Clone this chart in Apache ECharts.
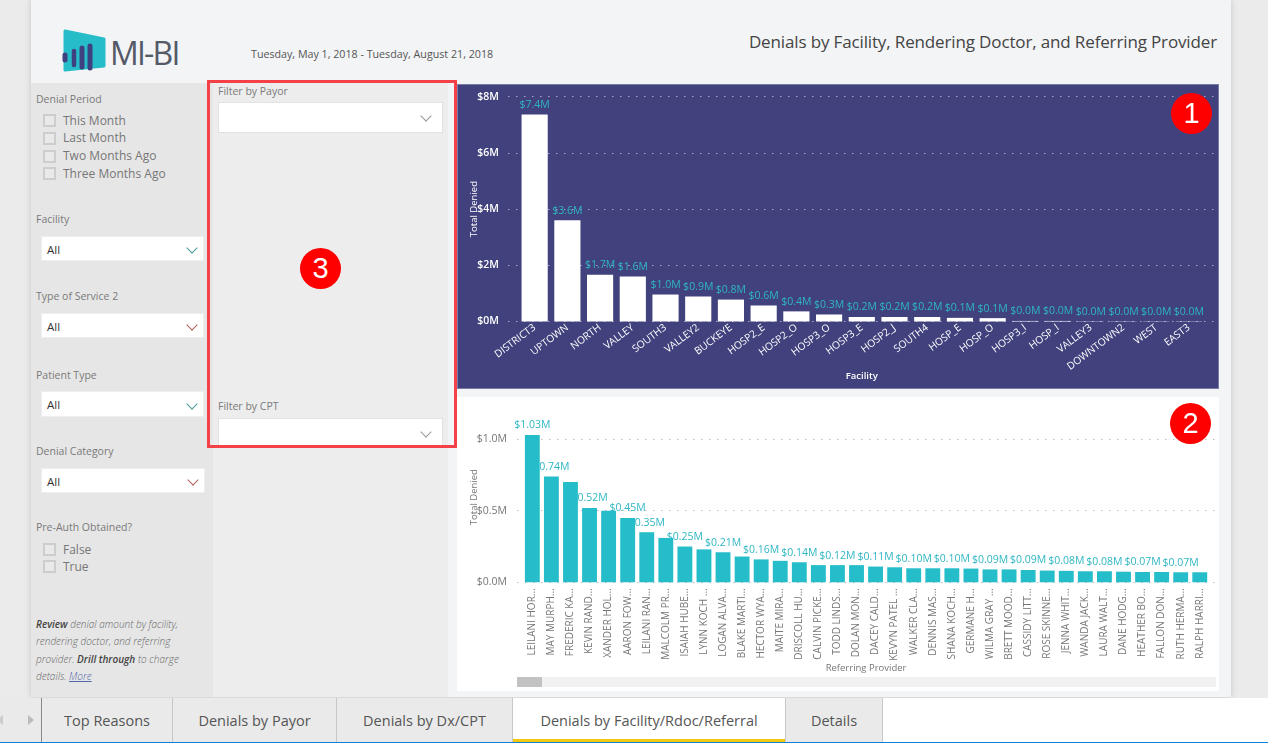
<!DOCTYPE html>
<html>
<head>
<meta charset="utf-8">
<title>Denials by Facility, Rendering Doctor, and Referring Provider</title>
<script src="https://cdn.jsdelivr.net/npm/echarts@6/dist/echarts.min.js"></script>
<style>
  html, body { margin: 0; padding: 0; width: 1268px; height: 743px; overflow: hidden; background: #ebebeb; font-family: "Open Sans", sans-serif; }
  .abs, .t, .check, .drop, .chev, .badge, .tab, .div { position: absolute; }
  .t { white-space: nowrap; line-height: 1; color: #7a7a7a; font-size: 10.5px; }
  .opt { font-size: 12px; color: #777; }
  .note { font-size: 10px; font-style: italic; color: #666; font-weight: 300; }
  .note b { color: #444; font-weight: 600; }
  .check { width: 9px; height: 9px; border: 2px solid #cdcdcd; background: #e9e9e9; }
  .drop { background: #fff; border: 1px solid #eee; box-sizing: border-box; }
  .drop span { position: absolute; left: 5px; top: 7px; font-size: 11.5px; color: #333; line-height: 1.1; }
  .chev { width: 7px; height: 7px; border-right: 1px solid #4a9a9a; border-bottom: 1px solid #4a9a9a; transform: rotate(45deg); }
  .badge { width: 41px; height: 41px; border-radius: 50%; background: #f00; color: #fff; text-align: center; font: 29px/41px "Liberation Sans", sans-serif; }
  .tab { top: 698px; height: 44px; line-height: 45px; font-size: 14.5px; font-weight: 500; color: #555; text-align: center; white-space: nowrap; }
  .div { top: 698px; width: 1px; height: 44px; background: #c8c8c8; }
</style>
</head>
<body>
<!-- report canvas -->
<div class="abs" style="left:31px;top:0;width:1200px;height:697px;background:#f3f4f6;box-shadow:0 0 6px #c4c4c4"></div>
<div class="abs" style="left:31px;top:83px;width:182px;height:614px;background:#e6e6e6"></div>
<div class="abs" style="left:213px;top:83px;width:235px;height:614px;background:#ededed"></div>

<!-- logo -->
<svg class="abs" style="left:60px;top:26px" width="48" height="48">
  <path d="M5 5 L44 13 L44 40 L5 44 Z" fill="#26bdc9" stroke="#26bdc9" stroke-width="3" stroke-linejoin="round"/>
  <g stroke="#3f4080" stroke-linecap="round" fill="none">
    <path d="M5 29V34" stroke-width="5"/>
    <path d="M14 25V39" stroke-width="4.5"/>
    <path d="M22 22V41" stroke-width="5"/>
    <path d="M30 20V42" stroke-width="5"/>
  </g>
</svg>
<div class="t" style="left:110px;top:37px;font-size:32px;color:#555a68;letter-spacing:-1.8px">MI-BI</div>
<div class="t" style="left:251px;top:49px;font-size:10.7px;color:#555">Tuesday, May 1, 2018 - Tuesday, August 21, 2018</div>
<div class="t" style="right:51px;top:33px;font-size:17px;letter-spacing:-0.14px;color:#444">Denials by Facility, Rendering Doctor, and Referring Provider</div>

<!-- slicers -->
<div class="t" style="left:36px;top:94px">Denial Period</div>
<div class="check" style="left:43px;top:114px"></div><div class="t opt" style="left:63px;top:115px">This Month</div>
<div class="check" style="left:43px;top:132px"></div><div class="t opt" style="left:63px;top:132px">Last Month</div>
<div class="check" style="left:43px;top:150px"></div><div class="t opt" style="left:63px;top:150px">Two Months Ago</div>
<div class="check" style="left:43px;top:167px"></div><div class="t opt" style="left:63px;top:168px">Three Months Ago</div>

<div class="t" style="left:36px;top:214px">Facility</div>
<div class="drop" style="left:41px;top:236px;width:163px;height:25px"><span>All</span></div>
<div class="chev" style="left:188px;top:244px"></div>

<div class="t" style="left:36px;top:291px">Type of Service 2</div>
<div class="drop" style="left:41px;top:313px;width:163px;height:25px"><span>All</span></div>
<div class="chev" style="left:188px;top:321px;border-color:#b5605a"></div>

<div class="t" style="left:36px;top:370px">Patient Type</div>
<div class="drop" style="left:41px;top:391px;width:163px;height:26px"><span>All</span></div>
<div class="chev" style="left:188px;top:400px"></div>

<div class="t" style="left:36px;top:446px">Denial Category</div>
<div class="drop" style="left:41px;top:468px;width:164px;height:25px"><span>All</span></div>
<div class="chev" style="left:189px;top:476px;border-color:#b5605a"></div>

<div class="t" style="left:36px;top:522px">Pre-Auth Obtained?</div>
<div class="check" style="left:43px;top:543px"></div><div class="t opt" style="left:63px;top:544px">False</div>
<div class="check" style="left:43px;top:560px"></div><div class="t opt" style="left:63px;top:561px">True</div>

<div class="t note" style="left:36px;top:619px"><b>Review</b> denial amount by facility,</div>
<div class="t note" style="left:36px;top:636px">rendering doctor, and referring</div>
<div class="t note" style="left:36px;top:654px">provider. <b>Drill through</b> to charge</div>
<div class="t note" style="left:36px;top:671px">details. <span style="color:#5566aa;text-decoration:underline">More</span></div>

<!-- payor and CPT filters -->
<div class="t" style="left:218px;top:86px">Filter by Payor</div>
<div class="drop" style="left:218px;top:102px;width:225px;height:31px;border:1px solid #e2e2e2"></div>
<div class="chev" style="left:422px;top:112px;border-color:#999"></div>
<div class="t" style="left:218px;top:401px">Filter by CPT</div>
<div class="drop" style="left:218px;top:418px;width:225px;height:28px;border:1px solid #e2e2e2"></div>
<div class="chev" style="left:422px;top:428px;border-color:#999"></div>
<div class="abs" style="left:207px;top:80px;width:244px;height:362px;border:3px solid #f44147"></div>

<!-- charts -->
<div id="facilityChart" class="abs" style="left:457px;top:84px;width:762px;height:305px"></div>
<div class="abs" style="left:457px;top:84px;width:760px;height:303px;border:1px solid #7a7aa8;pointer-events:none"></div>
<div id="providerChart" class="abs" style="left:457px;top:397px;width:762px;height:294px"></div>
<div class="abs" style="left:517px;top:677px;width:699px;height:10px;background:#f1f1f1"></div>
<div class="abs" style="left:517px;top:677px;width:25px;height:10px;background:#c2c2c2"></div>

<div class="badge" style="left:1171px;top:93px">1</div>
<div class="badge" style="left:1170px;top:403px">2</div>
<div class="badge" style="left:300px;top:248px">3</div>

<!-- page tabs -->
<div class="abs" style="left:0;top:698px;width:1268px;height:44px;background:#fff"></div>
<div class="abs" style="left:0;top:698px;width:883px;height:44px;background:#eaeaea"></div>
<div class="abs" style="left:0;top:742px;width:1268px;height:1px;background:#0f7fd8"></div>
<div class="abs" style="left:513px;top:698px;width:272px;height:44px;background:#fff"></div>
<div class="abs" style="left:513px;top:739px;width:272px;height:3px;background:#f2c811"></div>
<div class="abs" style="left:-3px;top:715px;border:5px solid transparent;border-right:6px solid #ccc;border-left:0"></div>
<div class="abs" style="left:28px;top:715px;border:5px solid transparent;border-left:6px solid #bbb;border-right:0"></div>
<div class="div" style="left:41px;background:#888"></div>
<div class="div" style="left:172px"></div>
<div class="div" style="left:336px"></div>
<div class="div" style="left:512px"></div>
<div class="div" style="left:785px"></div>
<div class="div" style="left:882px"></div>
<div class="tab" style="left:42px;width:130px">Top Reasons</div>
<div class="tab" style="left:173px;width:163px">Denials by Payor</div>
<div class="tab" style="left:337px;width:175px">Denials by Dx/CPT</div>
<div class="tab" style="left:513px;width:272px">Denials by Facility/Rdoc/Referral</div>
<div class="tab" style="left:786px;width:96px">Details</div>

<script>
var facilities = ["DISTRICT3", "UPTOWN", "NORTH", "VALLEY", "SOUTH3", "VALLEY2", "BUCKEYE", "HOSP2_E", "HOSP2_O", "HOSP3_O", "HOSP3_E", "HOSP2_J", "SOUTH4", "HOSP_E", "HOSP_O", "HOSP3_I", "HOSP_I", "VALLEY3", "DOWNTOWN2", "WEST", "EAST3"];
var facilityDenied = [7.37, 3.6, 1.66, 1.6, 0.96, 0.89, 0.78, 0.57, 0.36, 0.25, 0.16, 0.16, 0.16, 0.13, 0.12, 0.02, 0.02, 0.01, 0.01, 0.01, 0.01];
var facilityTicks = [0, 2, 4, 6, 8];

// names are cut off in the report, kept as shown
var providers = ["LEILANI HOR...", "MAY MURPH...", "FREDERIC KA...", "KEVIN RAND...", "XANDER HOL...", "AARON FOW...", "LEILANI RAN...", "MALCOLM PR...", "ISAIAH HUBE...", "LYNN KOCH ...", "LOGAN ALVA...", "BLAKE MARTI...", "HECTOR WYA...", "MAITE MIRA...", "DRISCOLL HU...", "CALVIN PICKE...", "TODD LINDS...", "DOLAN MON...", "DACEY CALD...", "KEVYN PATEL ...", "WALKER CLA...", "DENNIS MAS...", "SHANA KOCH...", "GERMANE H...", "WILMA GRAY ...", "BRETT MOOD...", "CASSIDY LITT...", "ROSE SKINNE...", "JENNA WHIT...", "WANDA JACK...", "LAURA WALT...", "DANE HODG...", "HEATHER BO...", "FALLON DON...", "RUTH HERMA...", "RALPH HARRI..."];
var providerDenied = [1.03, 0.74, 0.7, 0.52, 0.5, 0.45, 0.35, 0.31, 0.25, 0.23, 0.21, 0.18, 0.16, 0.15, 0.14, 0.12, 0.12, 0.12, 0.11, 0.105, 0.098, 0.098, 0.098, 0.096, 0.09, 0.09, 0.086, 0.082, 0.08, 0.077, 0.077, 0.074, 0.072, 0.072, 0.07, 0.07];
// Power BI only labels some of the bars here
var providerLabelled = [0, 1, 3, 5, 6, 8, 10, 12, 14, 16, 18, 20, 22, 24, 26, 28, 30, 32, 34];

var fontName = "Open Sans";
var teal = "#25bdc9";
var tealText = "#2fb6c4";

var chart1 = echarts.init(document.getElementById("facilityChart"));
chart1.setOption({
  animation: false,
  backgroundColor: "#40417d",
  textStyle: { fontFamily: fontName },
  // first grid only holds the value axis: its gridlines run wider than the bars
  grid: [
    { left: 51, width: 706, top: 12.7, height: 224.8, outerBoundsMode: "none" },
    { left: 61.3, width: 687, top: 12.7, height: 224.8, outerBoundsMode: "none" },
  ],
  xAxis: [
    { gridIndex: 0, type: "value", min: 0, max: 1, show: false },
    {
      gridIndex: 1,
      type: "category",
      data: facilities,
      axisLine: { show: false },
      axisTick: { show: false },
      axisLabel: { color: "#fff", fontSize: 10.2, rotate: 37, interval: 0, margin: 5 },
      name: "Facility",
      nameLocation: "middle",
      nameGap: 50,
      nameMoveOverlap: false,
      nameTextStyle: { color: "#fff", fontSize: 9.5, fontWeight: 600 },
    },
  ],
  yAxis: [
    {
      gridIndex: 0,
      type: "value",
      min: facilityTicks[0],
      max: facilityTicks[facilityTicks.length - 1],
      interval: 2,
      axisLine: { show: false },
      axisTick: { show: false },
      axisLabel: { color: "#fff", fontSize: 10.5, fontWeight: 600, margin: 9, formatter: "${value}M" },
      splitLine: { lineStyle: { color: "#a8a8c4", type: [1.5, 6.5], width: 1 } },
      name: "Total Denied",
      nameLocation: "middle",
      nameGap: 29,
      nameMoveOverlap: false,
      nameTextStyle: { color: "#fff", fontSize: 9.5 },
    },
    { gridIndex: 1, type: "value", min: 0, max: 8, show: false },
  ],
  series: [
    {
      type: "bar",
      xAxisIndex: 1,
      yAxisIndex: 1,
      data: facilityDenied,
      barCategoryGap: "20%",
      itemStyle: { color: "#fff" },
      label: {
        show: true,
        position: "top",
        distance: 4,
        color: tealText,
        fontSize: 10.5,
        formatter: function (p) { return "$" + p.value.toFixed(1) + "M"; },
      },
    },
  ],
});

var chart2 = echarts.init(document.getElementById("providerChart"));
chart2.setOption({
  animation: false,
  backgroundColor: "#fff",
  textStyle: { fontFamily: fontName },
  grid: [
    { left: 60, width: 699, top: 15, height: 170.3, outerBoundsMode: "none" },
    { left: 65.8, width: 686.5, top: 15, height: 170.3, outerBoundsMode: "none" },
  ],
  xAxis: [
    { gridIndex: 0, type: "value", min: 0, max: 1, show: false },
    {
      gridIndex: 1,
      type: "category",
      data: providers,
      axisLine: { show: false },
      axisTick: { show: false },
      axisLabel: { color: "#777", fontSize: 10, rotate: 90, interval: 0, margin: 6 },
      name: "Referring Provider",
      nameLocation: "middle",
      nameGap: 81,
      nameMoveOverlap: false,
      nameTextStyle: { color: "#777", fontSize: 9.5 },
    },
  ],
  yAxis: [
    {
      gridIndex: 0,
      type: "value",
      min: 0,
      max: 1.19,
      interval: 0.5,
      axisLine: { show: false },
      axisTick: { show: false },
      axisLabel: {
        color: "#777",
        fontSize: 10.5,
        margin: 10,
        showMaxLabel: false,
        formatter: function (v) { return "$" + v.toFixed(1) + "M"; },
      },
      splitLine: { showMaxLine: false, lineStyle: { color: "#bdbdbd", type: [1.5, 6.5], width: 1 } },
      name: "Total Denied",
      nameLocation: "middle",
      nameGap: 38,
      nameMoveOverlap: false,
      nameTextStyle: { color: "#777", fontSize: 9.5 },
    },
    { gridIndex: 1, type: "value", min: 0, max: 1.19, show: false },
  ],
  series: [
    // labels sit on a see-through series under the bars, so bars can cover them as in the report
    {
      type: "bar",
      xAxisIndex: 1,
      yAxisIndex: 1,
      z: 1,
      silent: true,
      barCategoryGap: "22%",
      barGap: "-100%",
      itemStyle: { color: "transparent" },
      data: providerDenied.map(function (v, i) {
        return { value: v, label: { show: providerLabelled.indexOf(i) >= 0 } };
      }),
      label: {
        position: "top",
        distance: 4,
        color: tealText,
        fontSize: 10.5,
        formatter: function (p) { return "$" + p.value.toFixed(2) + "M"; },
      },
    },
    {
      type: "bar",
      xAxisIndex: 1,
      yAxisIndex: 1,
      z: 2,
      barCategoryGap: "22%",
      barGap: "-100%",
      itemStyle: { color: teal },
      data: providerDenied,
    },
  ],
});
</script>
</body>
</html>
